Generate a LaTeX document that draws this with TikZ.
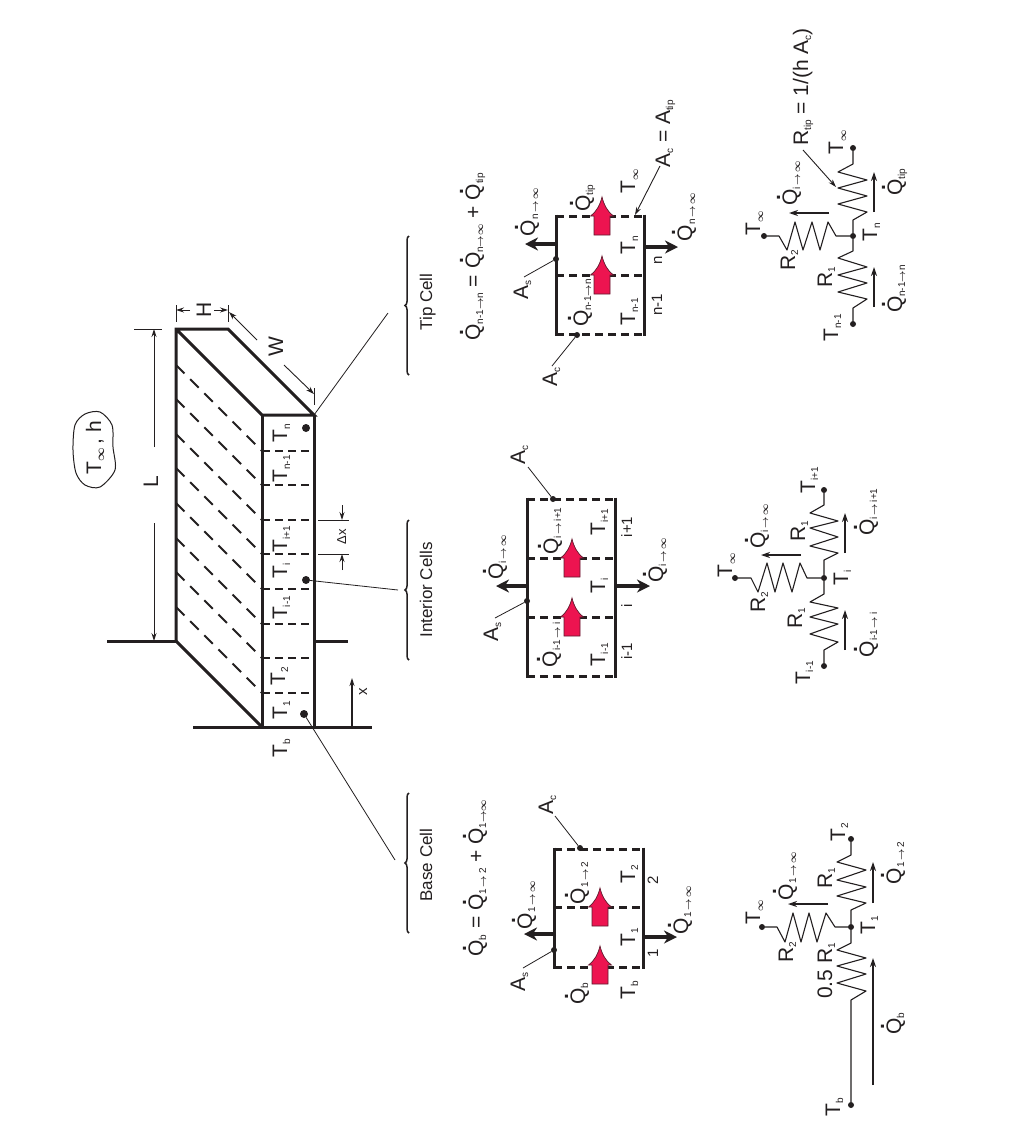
\documentclass[tikz,border=0pt]{standalone}
\usepackage{fontspec}
\setmainfont{Liberation Sans}
\usetikzlibrary{arrows.meta,decorations.pathreplacing}
\definecolor{c231f20}{RGB}{35,31,32}
\definecolor{ced1450}{RGB}{237,20,80}
\newcommand{\lowsub}[1]{\raisebox{-3pt}{\fontsize{10}{10}\selectfont #1}}
\newcommand{\Tlab}[1]{T\lowsub{#1}}
\newcommand{\Rlab}[1]{R\lowsub{#1}}
\newcommand{\Alab}[1]{A\lowsub{#1}}
\newcommand{\Qlab}[1]{\rlap{\hspace{.25em}\raisebox{.8em}{\textbf{.}}}Q\lowsub{#1}}
\newcommand{\toarrow}{{\boldmath$\to$}}
\newcommand{\infsym}{{\boldmath$\infty$}}
\tikzset{
  lab/.style={rotate=90,anchor=base,text=c231f20},
  cellnum/.style={lab,font=\fontsize{15}{15}\selectfont},
  small/.style={lab,font=\fontsize{13}{13}\selectfont},
  title/.style={lab,font=\fontsize{17}{17}\selectfont},
  bold/.style={draw=c231f20,line width=3pt,line cap=butt,line join=miter},
  cellsolid/.style={draw=c231f20,line width=3pt},
  celldash/.style={draw=c231f20,line width=3pt,dash pattern=on 8pt off 5pt},
  frontdash/.style={draw=c231f20,line width=2pt,dash pattern=on 8pt off 5pt},
  sidedash/.style={draw=c231f20,line width=2pt,dash pattern=on 12pt off 8pt},
  thin/.style={draw=c231f20,line width=0.8pt},
  dim/.style={draw=c231f20,line width=0.9pt,-{Stealth[length=8pt,width=5pt]}},
  flow/.style={draw=c231f20,line width=1.6pt,-{Stealth[length=9pt,width=6pt]}},
  outflow/.style={draw=c231f20,line width=4pt,-{Stealth[length=13pt,width=13pt]}},
  wire/.style={draw=c231f20,line width=1.1pt,line join=round},
  dot/.style={circle,fill=c231f20,inner sep=0pt,minimum size=#1},
  dot/.default=6pt,
  heatarrow/.pic={
    \path[draw=c231f20!70!ced1450,line width=0.7pt,fill=ced1450] (-8,19) -- (-8,0) -- (-11.5,0)
      .. controls (-5,-5) and (-2,-11) .. (0,-19)
      .. controls (2,-11) and (5,-5) .. (11.5,0) -- (8,0) -- (8,19) -- cycle;
  }
}
\begin{document}
\begin{tikzpicture}[y=-1pt, x=1pt, every node/.append style={font=\fontsize{21}{21}\selectfont}, inner sep=0pt, outer sep=0pt]
  \useasboundingbox[fill=white] (0,0) rectangle (1024,1136);

  % ambient
  \path[thin,line width=1pt] plot[smooth cycle] coordinates {(73,450) (75,425) (85,414) (100,412) (112,425) (113,447) (115,470) (100,487) (85,485) (76,473)};
  \node[lab] (ambient) at (101,448) {T\lowsub{\fontsize{13}{13}\selectfont\infsym}\,, h};

  % fin
  \path[sidedash] (176,365) -- (262,451);
  \path[sidedash] (176,399) -- (262,485);
  \path[sidedash] (176,434) -- (262,520);
  \path[sidedash] (176,468) -- (262,554);
  \path[sidedash] (176,503) -- (262,589);
  \path[sidedash] (176,538) -- (262,624);
  \path[sidedash] (176,572) -- (262,658);
  \path[sidedash] (176,607) -- (262,693);

  \path[frontdash] (262,451) -- (314,451);
  \path[frontdash] (262,485) -- (314,485);
  \path[frontdash] (262,520) -- (314,520);
  \path[frontdash] (262,554) -- (314,554);
  \path[frontdash] (262,589) -- (314,589);
  \path[frontdash] (262,624) -- (314,624);
  \path[frontdash] (262,658) -- (314,658);
  \path[frontdash] (262,693) -- (314,693);

  \path[bold] (176,641) -- (176,329) -- (228,329) -- (314,415) -- (262,415) -- (176,329);
  \path[bold] (314,415) -- (314,727);
  \path[bold] (262,415) -- (262,727);
  \path[bold] (176,641) -- (262,727);
  \path[bold] (107,641) -- (176,641);
  \path[bold] (314,641) -- (348,641);
  \path[bold] (193,727) -- (372,727);

  \node[lab] (tfn) at (287,433) {\Tlab{n}};
  \node[lab] (tfnm) at (287,469) {\Tlab{n-1}};
  \node[lab] (tfip) at (287,539) {\Tlab{i+1}};
  \node[lab] (tfi) at (287,571) {\Tlab{i}};
  \node[lab] (tfim) at (287,608) {\Tlab{i-1}};
  \node[lab] (tf2) at (285,676) {\Tlab{2}};
  \node[lab] (tf1) at (287,710) {\Tlab{1}};
  \node[lab] (tfb) at (287,748) {\Tlab{b}};

  % dimensions
  \path[thin] (134,329) -- (162,329);
  \node[lab] (ldim) at (158,482) {L};
  \coordinate (ltop) at (154,329);
  \coordinate (lbot) at (154,641);
  \path[dim] (154,447) -- (ltop);
  \path[dim] (154,523) -- (lbot);

  \path[thin] (176,305) -- (176,322);
  \path[thin] (228,305) -- (228,322);
  \node[lab] (hdim) at (211,310) {H};
  \path[dim] (190,310) -- (176,310);
  \path[dim] (214,310) -- (228,310);

  \path[thin] (314,388) -- (314,405);
  \node[lab] (wdim) at (283,347) {W};
  \path[dim] (257,340) -- (229,312);
  \path[dim] (284,365) -- (314,394);

  \path[thin] (318,520) -- (349,520);
  \path[thin] (318,554) -- (349,554);
  \node[small] (dxdim) at (346,537) {Δx};
  \path[dim] (342,505) -- (342,520);
  \path[dim] (342,570) -- (342,554);

  \path[dim,line width=1.1pt] (352,727) -- (352,678);
  \node[cellnum] (xdim) at (367,692) {x};

  % pointers to the cells
  \node[dot=8pt] (dtip) at (306,428) {};
  \node[dot=8pt] (dint) at (306,580) {};
  \node[dot=8pt] (dbase) at (304,714) {};
  \coordinate (ctip) at (388,313);
  \coordinate (cint) at (398,590);
  \coordinate (cbase) at (395,860);
  \coordinate (ftip) at (314,415);
  \path[thin] (ftip) -- (ctip);
  \path[thin] (dint) -- (cint);
  \path[thin] (dbase) -- (cbase);

  \path[draw=c231f20,line width=1.5pt,decorate,decoration={brace,amplitude=4pt}] (409,375) -- (409,236);
  \path[draw=c231f20,line width=1.5pt,decorate,decoration={brace,amplitude=4pt}] (409,660) -- (409,520);
  \path[draw=c231f20,line width=1.5pt,decorate,decoration={brace,amplitude=4pt}] (409,933) -- (409,793);
  \node[title] (tiptitle) at (432,302) {Tip Cell};
  \node[title] (inttitle) at (432,590) {Interior Cells};
  \node[title] (basetitle) at (432,865) {Base Cell};

  % tip cell
  \node[lab] (eqtip) at (480,257) {\Qlab{n-1\toarrow n} = \Qlab{n\toarrow\infsym} + \Qlab{tip}};
  \path[celldash] (556,216) -- (644,216);
  \path[celldash] (556,275) -- (644,275);
  \path[celldash] (556,334) -- (644,334);
  \path[cellsolid] (556,214.5) -- (556,335.5);
  \path[cellsolid] (644,214.5) -- (644,335.5);
  \pic at (602,216) {heatarrow};
  \pic at (602,275) {heatarrow};
  \path[outflow] (557,244) -- (525,244);
  \path[outflow] (645,247) -- (678,247);
  \node[lab] (qtipout) at (535,212) {\Qlab{n\,\toarrow\,\infsym}};
  \node[lab] (qtipout2) at (692,217) {\Qlab{n\,\toarrow\,\infsym}};
  \node[lab] (qtipq) at (590,198) {\Qlab{tip}};
  \node[lab] (qtipn) at (588,303) {\Qlab{n-1\toarrow n}};
  \node[lab] (ttipinf) at (635,181) {\Tlab{\infsym}};
  \node[lab] (ttipn) at (635,245) {\Tlab{n}};
  \node[lab] (ttipnm) at (635,312) {\Tlab{n-1}};
  \node[cellnum] (ntip) at (662,260) {n};
  \node[cellnum] (nmtip) at (662,305) {n-1};
  \node[lab] (astip) at (528,290) {\Alab{s}};
  \node[dot] (dastip) at (556,259) {};
  \coordinate (lastip) at (524,277);
  \path[thin] (lastip) -- (dastip);
  \node[lab] (actip) at (557,377) {\Alab{c}};
  \node[dot] (dactip) at (577,335) {};
  \coordinate (lactip) at (552,366);
  \path[thin] (lactip) -- (dactip);
  \node[lab] (actiptxt) at (670,134) {\Alab{c} = \Alab{tip}};
  \coordinate (lactxt) at (660,166);
  \coordinate (lacend) at (635,215);
  \path[dim] (lactxt) -- (lacend);

  % interior cells
  \path[celldash] (527,499) -- (615,499);
  \path[celldash] (527,558) -- (615,558);
  \path[celldash] (527,617) -- (615,617);
  \path[celldash] (527,676) -- (615,676);
  \path[cellsolid] (527,497.5) -- (527,677.5);
  \path[cellsolid] (615,497.5) -- (615,677.5);
  \pic at (572,558) {heatarrow};
  \pic at (572,617) {heatarrow};
  \path[outflow] (528,586) -- (496,586);
  \path[outflow] (616,586) -- (650,586);
  \node[lab] (qintl) at (503,557) {\Qlab{i\,\toarrow\,\infsym}};
  \node[lab] (qintr) at (663,560) {\Qlab{i\,\toarrow\,\infsym}};
  \node[lab] (qintu) at (558,531) {\Qlab{i\,\toarrow\,i+1}};
  \node[lab] (qintd) at (557,645) {\Qlab{i-1\,\toarrow\,i}};
  \node[lab] (tintp) at (605,522) {\Tlab{i+1}};
  \node[lab] (tinti) at (605,586) {\Tlab{i}};
  \node[lab] (tintm) at (605,655) {\Tlab{i-1}};
  \node[cellnum] (nintp) at (632,527) {i+1};
  \node[cellnum] (ninti) at (632,606) {i};
  \node[cellnum] (nintm) at (632,651) {i-1};
  \node[lab] (asint) at (498,632) {\Alab{s}};
  \node[dot] (dasint) at (527,601) {};
  \coordinate (lasint) at (495,618);
  \path[thin] (lasint) -- (dasint);
  \node[lab] (acint) at (525,455) {\Alab{c}};
  \node[dot] (dacint) at (553,499) {};
  \coordinate (lacint) at (528,467);
  \path[thin] (lacint) -- (dacint);

  % base cell
  \node[lab] (eqbase) at (483,878) {\Qlab{b} = \Qlab{1\,\toarrow\,2} + \Qlab{1\toarrow\infsym}};
  \path[celldash] (554,849) -- (643,849);
  \path[celldash] (554,907) -- (643,907);
  \path[celldash] (554,967) -- (643,967);
  \path[cellsolid] (554,847.5) -- (554,968.5);
  \path[cellsolid] (643,847.5) -- (643,968.5);
  \pic at (600,907) {heatarrow};
  \pic at (600,965) {heatarrow};
  \path[outflow] (556,934) -- (524,934);
  \path[outflow] (644,937) -- (677,937);
  \node[lab] (qbasel) at (532,905) {\Qlab{1\,\toarrow\,\infsym}};
  \node[lab] (qbaser) at (688,910) {\Qlab{1\,\toarrow\,\infsym}};
  \node[lab] (qbase12) at (585,883) {\Qlab{1\,\toarrow\,2}};
  \node[lab] (qbaseb) at (585,994) {\Qlab{b}};
  \node[lab] (tbaseb) at (635,990) {\Tlab{b}};
  \node[lab] (tbase1) at (635,937) {\Tlab{1}};
  \node[lab] (tbase2) at (635,874) {\Tlab{2}};
  \node[cellnum] (nbase2) at (658,880) {2};
  \node[cellnum] (nbase1) at (658,953) {1};
  \node[lab] (asbase) at (525,982) {\Alab{s}};
  \node[dot] (dasbase) at (554,950) {};
  \coordinate (lasbase) at (523,968);
  \path[thin] (lasbase) -- (dasbase);
  \node[lab] (acbase) at (553,805) {\Alab{c}};
  \node[dot] (dacbase) at (580,848) {};
  \coordinate (lacbase) at (555,816);
  \path[thin] (lacbase) -- (dacbase);

  % base network
  \node[dot] (nb) at (851,1105) {};
  \node[dot] (n1) at (851,927) {};
  \node[dot] (n2) at (851,839) {};
  \node[dot] (n1inf) at (762,927) {};
  \path[wire] (nb) -- (851,1000) -- (866,991) -- (837,983) -- (866,974) -- (837,966) -- (866,958) -- (837,950) -- (851,943) -- (n1);
  \path[wire] (n1) -- (851,910) -- (866,903) -- (837,896) -- (866,887) -- (837,880) -- (866,870) -- (837,862) -- (851,855) -- (n2);
  \path[wire] (n1) -- (835,927) -- (826,913) -- (817,942) -- (809,913) -- (801,942) -- (793,913) -- (785,942) -- (777,927) -- (n1inf);
  \node[lab] (lb) at (840,1107) {\Tlab{b}};
  \node[lab] (l1) at (875,925) {\Tlab{1}};
  \node[lab] (l2) at (845,832) {\Tlab{2}};
  \node[lab] (linf) at (760,912) {\Tlab{\infsym}};
  \node[lab] (r05) at (832,971) {0.5 \Rlab{1}};
  \node[lab] (r1b) at (832,878) {\Rlab{1}};
  \node[lab] (r2b) at (793,952) {\Rlab{2}};
  \node[lab] (qb1) at (793,876) {\Qlab{1\,\toarrow\,\infsym}};
  \node[lab] (qb2) at (901,1024) {\Qlab{b}};
  \node[lab] (qb3) at (901,863) {\Qlab{1\,\toarrow\,2}};
  \path[flow] (828,904) -- (788,904);
  \path[flow] (873,1085) -- (873,958);
  \path[flow] (873,903) -- (873,862);

  % interior network
  \node[dot] (nim) at (824,666) {};
  \node[dot] (ni) at (824,578) {};
  \node[dot] (nip) at (824,490) {};
  \node[dot] (niinf) at (735,578) {};
  \path[wire] (nim) -- (824,650) -- (838,642) -- (810,634) -- (838,624) -- (810,617) -- (838,608) -- (810,602) -- (824,594) -- (ni);
  \path[wire] (ni) -- (824,560) -- (838,553) -- (810,546) -- (838,537) -- (810,528) -- (838,521) -- (810,513) -- (824,505) -- (nip);
  \path[wire] (ni) -- (807,578) -- (800,563) -- (792,592) -- (783,563) -- (775,592) -- (767,563) -- (758,592) -- (751,578) -- (niinf);
  \node[lab] (lim) at (810,673) {\Tlab{i-1}};
  \node[lab] (li) at (848,578) {\Tlab{i}};
  \node[lab] (lip) at (815,480) {\Tlab{i+1}};
  \node[lab] (liinf) at (732,565) {\Tlab{\infsym}};
  \node[lab] (r1im) at (802,618) {\Rlab{1}};
  \node[lab] (r1ip) at (805,531) {\Rlab{1}};
  \node[lab] (r2i) at (765,602) {\Rlab{2}};
  \node[lab] (qi1) at (765,526) {\Qlab{i\,\toarrow\,\infsym}};
  \node[lab] (qi2) at (874,512) {\Qlab{i\,\toarrow\,i+1}};
  \node[lab] (qi3) at (874,635) {\Qlab{i-1\,\toarrow\,i}};
  \path[flow] (801,555) -- (761,555);
  \path[flow] (845,553) -- (845,513);
  \path[flow] (845,650) -- (845,610);

  % tip network
  \node[dot] (nnm) at (853,324) {};
  \node[dot] (nn) at (853,236) {};
  \node[dot] (ntinf) at (853,148) {};
  \node[dot] (nninf) at (764,236) {};
  \path[wire] (nnm) -- (853,308) -- (867,299) -- (838,292) -- (867,283) -- (838,275) -- (867,267) -- (838,258) -- (853,251) -- (nn);
  \path[wire] (nn) -- (853,220) -- (867,212) -- (838,204) -- (867,196) -- (838,188) -- (867,180) -- (838,172) -- (853,164) -- (ntinf);
  \path[wire] (nn) -- (836,236) -- (828,222) -- (820,250) -- (812,222) -- (803,250) -- (795,222) -- (787,250) -- (779,236) -- (nninf);
  \node[lab] (lnm) at (838,328) {\Tlab{n-1}};
  \node[lab] (ln) at (877,232) {\Tlab{n}};
  \node[lab] (ltinf) at (843,142) {\Tlab{\infsym}};
  \node[lab] (lninf) at (760,223) {\Tlab{\infsym}};
  \node[lab] (r1n) at (832,277) {\Rlab{1}};
  \node[lab] (r2n) at (795,260) {\Rlab{2}};
  \node[lab] (qn1) at (797,183) {\Qlab{i\,\toarrow\,\infsym}};
  \node[lab] (qn2) at (902,182) {\Qlab{tip}};
  \node[lab] (qn3) at (902,289) {\Qlab{n-1\toarrow n}};
  \path[flow] (829,213) -- (789,213);
  \path[flow] (874,212) -- (874,172);
  \path[flow] (874,307) -- (874,267);
  \node[lab] (rtip) at (808,87) {\Rlab{tip} = 1/(h \Alab{c})};
  \coordinate (lrtip) at (803,150);
  \coordinate (lrtipend) at (836,187);
  \path[dim] (lrtip) -- (lrtipend);
\end{tikzpicture}
\end{document}
